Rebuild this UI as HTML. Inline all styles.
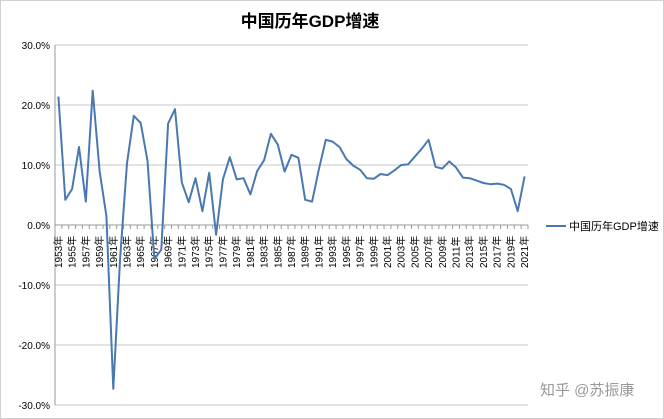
<!DOCTYPE html>
<html><head><meta charset="utf-8"><style>
body{margin:0;background:#fff;}
svg{display:block;font-family:"Liberation Sans","Noto Sans CJK SC",sans-serif;}
</style></head><body>
<svg id="c" width="664" height="419">
<rect x="0.5" y="0.5" width="663" height="418" fill="#fff" stroke="#d0d0d0"/>
<text x="310" y="27" text-anchor="middle" font-size="17" font-weight="bold" fill="#000">中国历年GDP增速</text>
<g id="grid"></g><g id="xl"></g>
<path id="line" fill="none" stroke="#4a78b0" stroke-width="2" stroke-linejoin="round"/>
<line x1="546" y1="226" x2="566" y2="226" stroke="#4a78b0" stroke-width="2"/>
<text x="569" y="230" font-size="11" fill="#000">中国历年GDP增速</text>
<text x="540" y="395" font-size="15" fill="#999">知乎 @苏振康</text>
</svg>
<script>
const years=[];for(let y=1953;y<=2021;y++)years.push(y);
const growth=[21.4,4.2,6.0,13.0,3.9,22.4,9.0,1.5,-27.3,-5.6,10.3,18.2,17.0,10.7,-5.7,-4.1,16.9,19.3,7.1,3.8,7.8,2.3,8.7,-1.6,7.6,11.3,7.6,7.8,5.1,9.0,10.8,15.2,13.4,8.9,11.7,11.2,4.2,3.9,9.3,14.2,13.9,13.0,11.0,9.9,9.2,7.8,7.7,8.5,8.3,9.1,10.0,10.1,11.4,12.7,14.2,9.7,9.4,10.6,9.6,7.9,7.8,7.4,7.0,6.8,6.9,6.7,6.0,2.3,8.1];
const yTicks=[30,20,10,0,-10,-20,-30];
const NS='http://www.w3.org/2000/svg';
const X0=55,X1=528,Y=v=>225-v*6;
const step=(X1-X0)/years.length;
const X=i=>X0+step*(i+0.5);
const g=document.getElementById('grid'),xl=document.getElementById('xl');
yTicks.forEach(t=>{
  const l=document.createElementNS(NS,'line');
  l.setAttribute('x1',X0);l.setAttribute('x2',X1);l.setAttribute('y1',Y(t));l.setAttribute('y2',Y(t));
  l.setAttribute('stroke',t===0?'#999':'#c8c8c8');
  
  
  g.appendChild(l);
  const tx=document.createElementNS(NS,'text');
  tx.setAttribute('x',X0-5);tx.setAttribute('y',Y(t)+4);tx.setAttribute('text-anchor','end');tx.setAttribute('font-size','10');
  tx.textContent=t.toFixed(1)+'%';
  
  
  g.appendChild(tx);
});
const ax=document.createElementNS(NS,'line');
ax.setAttribute('x1',X0);ax.setAttribute('x2',X0);ax.setAttribute('y1',Y(30));ax.setAttribute('y2',Y(-30));ax.setAttribute('stroke','#999');


g.appendChild(ax);
years.forEach((yr,i)=>{
  const tk=document.createElementNS(NS,'line');
  const x=X0+step*(i+1);
  tk.setAttribute('x1',x);tk.setAttribute('x2',x);tk.setAttribute('y1',225);tk.setAttribute('y2',229);tk.setAttribute('stroke','#999');
  
  
  xl.appendChild(tk);
  if(i%2===0){
    const t=document.createElementNS(NS,'text');
    t.setAttribute('transform','translate('+(X(i)+3.5)+',268) rotate(-90)');
    t.setAttribute('font-size','10');
    t.textContent=yr+'年';
    
    
    xl.appendChild(t);
  }
});
document.getElementById('line').setAttribute('d',growth.map((v,i)=>(i?'L':'M')+X(i).toFixed(1)+','+Y(v).toFixed(1)).join(''));
</script>
</body></html>
